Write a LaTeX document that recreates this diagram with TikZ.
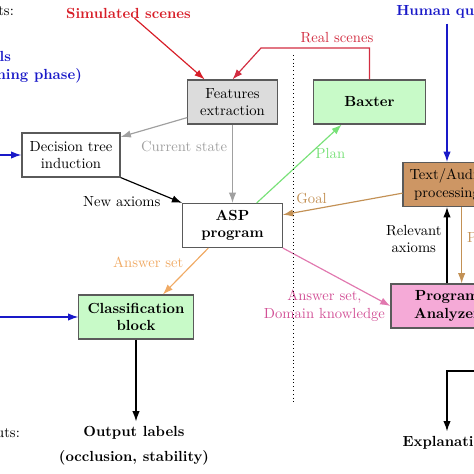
\documentclass[tikz,border=0pt]{standalone}
\usepackage{xcolor}
\usepackage{tikz}
\usetikzlibrary{arrows.meta,positioning}
\definecolor{simred}{RGB}{215,30,40}
\definecolor{realred}{RGB}{210,45,65}
\definecolor{qblue}{RGB}{25,25,200}
\definecolor{lgray}{RGB}{160,160,160}
\definecolor{aorange}{RGB}{240,170,100}
\definecolor{pgreen}{RGB}{120,225,120}
\definecolor{gbrown}{RGB}{195,145,85}
\definecolor{dpink}{RGB}{225,120,175}
\definecolor{tpink}{RGB}{210,80,150}
\definecolor{tanfill}{RGB}{205,150,100}
\definecolor{pinkfill}{RGB}{245,170,215}
\definecolor{greenfill}{RGB}{200,250,200}
\definecolor{grayfill}{RGB}{220,220,220}
\definecolor{boxgray}{RGB}{90,90,90}

\begin{document}
\begin{tikzpicture}
[x=0.683pt, y=-0.683pt, >={Latex[length=7pt,width=5pt]},
 man/.style={rectangle, draw=boxgray, thick, align=center, inner sep=2pt, minimum height=30pt},
 lnk/.style={->, thick},]
\useasboundingbox (0,0) rectangle (474,474);
\clip (0,0) rectangle (474,474);
\node[man, fill=grayfill, minimum width=61pt] (F) at (232.5,102) {Features\\ extraction};
\node[man, fill=greenfill, minimum width=77pt] (B) at (369.5,102) {\textbf{Baxter}};
\node[man, fill=white, minimum width=67pt] (D) at (71,155) {Decision tree\\ induction};
\node[man, fill=white, minimum width=68pt] (A) at (232.5,225.5) {\textbf{ASP}\\ \textbf{program}};
\node[man, fill=tanfill, minimum width=60pt] (T) at (447,184.5) {Text/Audio\\ processing};
\node[man, fill=pinkfill, minimum width=76.5pt] (P) at (447,306) {\textbf{Program}\\ \textbf{Analyzer}};
\node[man, fill=greenfill, minimum width=78pt] (C) at (136,317) {\textbf{Classification}\\ \textbf{block}};
\node[font=\bfseries, text=simred] (S) at (128.5,13) {Simulated scenes};
\node[font=\bfseries, text=qblue] (H) at (447,12) {Human query};
\node[anchor=east] (I) at (19,12) {Inputs:};
\node[anchor=east, align=left, font=\bfseries, text=qblue] (L) at (87,67.5) {Labels\\ (training phase)};
\node[anchor=east] (O) at (25,434) {Outputs:};
\node[font=\bfseries, align=center] (OL) at (134,446) {Output labels\\[5pt] (occlusion, stability)};
\node[font=\bfseries] (E) at (447,443) {Explanation};
\coordinate (l1) at (-20,155);
\coordinate (l2) at (-20,317);
\coordinate (ex) at (447,371);
\draw[lnk, simred] ([xshift=4pt]S.base) -- (F.141);
\draw[lnk, realred] (B.north) |- node[above, pos=0.65] {Real scenes} (261,48) -- (F.north);
\draw[lnk, qblue] (H) -- (T);
\draw[lnk, qblue] (l1) -- (D);
\draw[lnk, qblue] (l2) -- (C);
\draw[lnk, lgray] (F.-161) -- (D.20);
\draw[lnk, lgray] (F) -- node[left, pos=0.28] {Current state} (A);
\draw[lnk] (D.south east) -- node[pos=0.95, left=9pt] {New axioms} (A.north west);
\draw[lnk, aorange] (A.-137) -- node[pos=0.3, left=4pt] {Answer set} (C.40);
\draw[lnk, pgreen] (A.43) -- node[right, pos=0.63] {Plan} (B.-141);
\draw[lnk, gbrown] (T.-169) -- node[above, pos=0.76] {Goal} (A.12);
\draw[lnk, dpink] (A.south east) -- node[left, pos=1, align=center, text=tpink] {Answer set,\\ Domain knowledge} (P.west);
\draw[lnk] (P) -- node[left, pos=0.58, align=center] {Relevant\\ axioms} (T);
\draw[lnk, gbrown] ([xshift=10pt]T.south) -- node[right, pos=0.41] {POS tags} ([xshift=10pt]P.north);
\draw[lnk] (C) -- (C |- OL.north);
\draw[lnk] ([xshift=30pt]P.south) |- (ex) -- (E);
\draw[dotted, semithick] (293,55) -- (293,405);
\end{tikzpicture}
\end{document}
